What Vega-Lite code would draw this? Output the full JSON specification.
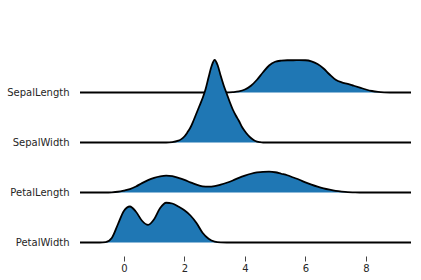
{
  "$schema": "https://vega.github.io/schema/vega-lite/v6.json",
  "width": 331,
  "height": 250,
  "autosize": "none",
  "padding": {"left": 80, "top": 0, "right": 10, "bottom": 30},
  "config": {"view": {"stroke": null}, "font": "DejaVu Sans"},
  "datasets": {
    "kde": [
      {"variable": "SepalLength", "x": -1.45, "density": 0},
      {"variable": "SepalLength", "x": 3.4, "density": 0},
      {"variable": "SepalLength", "x": 3.6, "density": 0.005},
      {"variable": "SepalLength", "x": 3.8, "density": 0.015},
      {"variable": "SepalLength", "x": 4.0, "density": 0.04},
      {"variable": "SepalLength", "x": 4.2, "density": 0.09},
      {"variable": "SepalLength", "x": 4.4, "density": 0.17},
      {"variable": "SepalLength", "x": 4.6, "density": 0.27},
      {"variable": "SepalLength", "x": 4.8, "density": 0.36},
      {"variable": "SepalLength", "x": 5.0, "density": 0.41},
      {"variable": "SepalLength", "x": 5.2, "density": 0.425},
      {"variable": "SepalLength", "x": 5.4, "density": 0.43},
      {"variable": "SepalLength", "x": 5.6, "density": 0.43},
      {"variable": "SepalLength", "x": 5.8, "density": 0.432},
      {"variable": "SepalLength", "x": 6.0, "density": 0.43},
      {"variable": "SepalLength", "x": 6.2, "density": 0.415},
      {"variable": "SepalLength", "x": 6.4, "density": 0.38},
      {"variable": "SepalLength", "x": 6.6, "density": 0.32},
      {"variable": "SepalLength", "x": 6.8, "density": 0.24},
      {"variable": "SepalLength", "x": 7.0, "density": 0.17},
      {"variable": "SepalLength", "x": 7.2, "density": 0.135},
      {"variable": "SepalLength", "x": 7.4, "density": 0.115},
      {"variable": "SepalLength", "x": 7.6, "density": 0.09},
      {"variable": "SepalLength", "x": 7.8, "density": 0.065},
      {"variable": "SepalLength", "x": 8.0, "density": 0.04},
      {"variable": "SepalLength", "x": 8.2, "density": 0.02},
      {"variable": "SepalLength", "x": 8.4, "density": 0.008},
      {"variable": "SepalLength", "x": 8.6, "density": 0.002},
      {"variable": "SepalLength", "x": 8.8, "density": 0},
      {"variable": "SepalLength", "x": 9.49, "density": 0},

      {"variable": "SepalWidth", "x": -1.45, "density": 0},
      {"variable": "SepalWidth", "x": 1.4, "density": 0},
      {"variable": "SepalWidth", "x": 1.6, "density": 0.005},
      {"variable": "SepalWidth", "x": 1.8, "density": 0.025},
      {"variable": "SepalWidth", "x": 1.9, "density": 0.045},
      {"variable": "SepalWidth", "x": 2.0, "density": 0.08},
      {"variable": "SepalWidth", "x": 2.1, "density": 0.135},
      {"variable": "SepalWidth", "x": 2.2, "density": 0.2},
      {"variable": "SepalWidth", "x": 2.3, "density": 0.29},
      {"variable": "SepalWidth", "x": 2.4, "density": 0.39},
      {"variable": "SepalWidth", "x": 2.5, "density": 0.49},
      {"variable": "SepalWidth", "x": 2.6, "density": 0.59},
      {"variable": "SepalWidth", "x": 2.7, "density": 0.71},
      {"variable": "SepalWidth", "x": 2.8, "density": 0.87},
      {"variable": "SepalWidth", "x": 2.9, "density": 1.02},
      {"variable": "SepalWidth", "x": 3.0, "density": 1.1},
      {"variable": "SepalWidth", "x": 3.1, "density": 1.03},
      {"variable": "SepalWidth", "x": 3.2, "density": 0.89},
      {"variable": "SepalWidth", "x": 3.3, "density": 0.76},
      {"variable": "SepalWidth", "x": 3.4, "density": 0.65},
      {"variable": "SepalWidth", "x": 3.5, "density": 0.54},
      {"variable": "SepalWidth", "x": 3.6, "density": 0.44},
      {"variable": "SepalWidth", "x": 3.7, "density": 0.36},
      {"variable": "SepalWidth", "x": 3.8, "density": 0.29},
      {"variable": "SepalWidth", "x": 3.9, "density": 0.21},
      {"variable": "SepalWidth", "x": 4.0, "density": 0.15},
      {"variable": "SepalWidth", "x": 4.1, "density": 0.1},
      {"variable": "SepalWidth", "x": 4.2, "density": 0.06},
      {"variable": "SepalWidth", "x": 4.3, "density": 0.03},
      {"variable": "SepalWidth", "x": 4.4, "density": 0.012},
      {"variable": "SepalWidth", "x": 4.5, "density": 0.004},
      {"variable": "SepalWidth", "x": 4.6, "density": 0},
      {"variable": "SepalWidth", "x": 9.49, "density": 0},

      {"variable": "PetalLength", "x": -1.45, "density": 0},
      {"variable": "PetalLength", "x": -0.6, "density": 0},
      {"variable": "PetalLength", "x": -0.4, "density": 0.003},
      {"variable": "PetalLength", "x": -0.2, "density": 0.01},
      {"variable": "PetalLength", "x": 0.0, "density": 0.025},
      {"variable": "PetalLength", "x": 0.2, "density": 0.045},
      {"variable": "PetalLength", "x": 0.4, "density": 0.08},
      {"variable": "PetalLength", "x": 0.6, "density": 0.125},
      {"variable": "PetalLength", "x": 0.8, "density": 0.165},
      {"variable": "PetalLength", "x": 1.0, "density": 0.195},
      {"variable": "PetalLength", "x": 1.2, "density": 0.215},
      {"variable": "PetalLength", "x": 1.4, "density": 0.224},
      {"variable": "PetalLength", "x": 1.6, "density": 0.218},
      {"variable": "PetalLength", "x": 1.8, "density": 0.195},
      {"variable": "PetalLength", "x": 2.0, "density": 0.168},
      {"variable": "PetalLength", "x": 2.2, "density": 0.135},
      {"variable": "PetalLength", "x": 2.4, "density": 0.105},
      {"variable": "PetalLength", "x": 2.6, "density": 0.083},
      {"variable": "PetalLength", "x": 2.8, "density": 0.077},
      {"variable": "PetalLength", "x": 3.0, "density": 0.085},
      {"variable": "PetalLength", "x": 3.2, "density": 0.105},
      {"variable": "PetalLength", "x": 3.4, "density": 0.13},
      {"variable": "PetalLength", "x": 3.6, "density": 0.16},
      {"variable": "PetalLength", "x": 3.8, "density": 0.195},
      {"variable": "PetalLength", "x": 4.0, "density": 0.225},
      {"variable": "PetalLength", "x": 4.2, "density": 0.25},
      {"variable": "PetalLength", "x": 4.4, "density": 0.268},
      {"variable": "PetalLength", "x": 4.6, "density": 0.276},
      {"variable": "PetalLength", "x": 4.8, "density": 0.277},
      {"variable": "PetalLength", "x": 5.0, "density": 0.27},
      {"variable": "PetalLength", "x": 5.2, "density": 0.25},
      {"variable": "PetalLength", "x": 5.4, "density": 0.23},
      {"variable": "PetalLength", "x": 5.6, "density": 0.2},
      {"variable": "PetalLength", "x": 5.8, "density": 0.17},
      {"variable": "PetalLength", "x": 6.0, "density": 0.135},
      {"variable": "PetalLength", "x": 6.2, "density": 0.105},
      {"variable": "PetalLength", "x": 6.4, "density": 0.078},
      {"variable": "PetalLength", "x": 6.6, "density": 0.055},
      {"variable": "PetalLength", "x": 6.8, "density": 0.037},
      {"variable": "PetalLength", "x": 7.0, "density": 0.022},
      {"variable": "PetalLength", "x": 7.2, "density": 0.012},
      {"variable": "PetalLength", "x": 7.4, "density": 0.005},
      {"variable": "PetalLength", "x": 7.6, "density": 0.002},
      {"variable": "PetalLength", "x": 7.8, "density": 0},
      {"variable": "PetalLength", "x": 9.49, "density": 0},

      {"variable": "PetalWidth", "x": -1.45, "density": 0},
      {"variable": "PetalWidth", "x": -0.8, "density": 0},
      {"variable": "PetalWidth", "x": -0.6, "density": 0.005},
      {"variable": "PetalWidth", "x": -0.4, "density": 0.06},
      {"variable": "PetalWidth", "x": -0.2, "density": 0.24},
      {"variable": "PetalWidth", "x": 0.0, "density": 0.42},
      {"variable": "PetalWidth", "x": 0.2, "density": 0.48},
      {"variable": "PetalWidth", "x": 0.4, "density": 0.41},
      {"variable": "PetalWidth", "x": 0.6, "density": 0.29},
      {"variable": "PetalWidth", "x": 0.8, "density": 0.235},
      {"variable": "PetalWidth", "x": 1.0, "density": 0.31},
      {"variable": "PetalWidth", "x": 1.2, "density": 0.46},
      {"variable": "PetalWidth", "x": 1.4, "density": 0.53},
      {"variable": "PetalWidth", "x": 1.6, "density": 0.52},
      {"variable": "PetalWidth", "x": 1.8, "density": 0.48},
      {"variable": "PetalWidth", "x": 2.0, "density": 0.43},
      {"variable": "PetalWidth", "x": 2.2, "density": 0.36},
      {"variable": "PetalWidth", "x": 2.4, "density": 0.26},
      {"variable": "PetalWidth", "x": 2.6, "density": 0.13},
      {"variable": "PetalWidth", "x": 2.8, "density": 0.05},
      {"variable": "PetalWidth", "x": 3.0, "density": 0.012},
      {"variable": "PetalWidth", "x": 3.2, "density": 0.002},
      {"variable": "PetalWidth", "x": 3.4, "density": 0},
      {"variable": "PetalWidth", "x": 9.49, "density": 0}
    ]
  },
  "data": {"name": "kde"},
  "encoding": {
    "x": {
      "field": "x",
      "type": "quantitative",
      "scale": {"domain": [-1.45, 9.49], "nice": false, "zero": false},
      "axis": {
        "values": [0, 2, 4, 6, 8],
        "domain": false,
        "grid": false,
        "title": null,
        "offset": 6,
        "tickSize": 5,
        "tickColor": "#444444",
        "labelFontSize": 10,
        "labelColor": "#262626",
        "labelPadding": 2
      }
    },
    "y2": {"datum": 0}
  },
  "layer": [
    {
      "transform": [{"filter": "datum.variable === 'SepalLength'"}],
      "mark": {"type": "area", "color": "#1f77b4", "interpolate": "monotone", "opacity": 1, "line": {"color": "black", "strokeWidth": 1.8}},
      "encoding": {
        "y": {"field": "density", "type": "quantitative",
          "scale": {"domain": [-2.1, 1.2333], "nice": false, "zero": false},
          "axis": {"values": [0], "labelExpr": "'SepalLength'", "orient": "left", "domain": false, "ticks": false, "tickSize": 0, "grid": false, "title": null, "labelPadding": 11, "labelFontSize": 10, "labelColor": "#262626"}}
      }
    },
    {
      "transform": [{"filter": "datum.variable === 'SepalWidth'"}],
      "mark": {"type": "area", "color": "#1f77b4", "interpolate": "monotone", "opacity": 1, "line": {"color": "black", "strokeWidth": 1.8}},
      "encoding": {
        "y": {"field": "density", "type": "quantitative",
          "scale": {"domain": [-1.4333, 1.9], "nice": false, "zero": false},
          "axis": {"values": [0], "labelExpr": "'SepalWidth'", "orient": "left", "domain": false, "ticks": false, "tickSize": 0, "grid": false, "title": null, "labelPadding": 11, "labelFontSize": 10, "labelColor": "#262626"}}
      }
    },
    {
      "transform": [{"filter": "datum.variable === 'PetalLength'"}],
      "mark": {"type": "area", "color": "#1f77b4", "interpolate": "monotone", "opacity": 1, "line": {"color": "black", "strokeWidth": 1.8}},
      "encoding": {
        "y": {"field": "density", "type": "quantitative",
          "scale": {"domain": [-0.7667, 2.5667], "nice": false, "zero": false},
          "axis": {"values": [0], "labelExpr": "'PetalLength'", "orient": "left", "domain": false, "ticks": false, "tickSize": 0, "grid": false, "title": null, "labelPadding": 11, "labelFontSize": 10, "labelColor": "#262626"}}
      }
    },
    {
      "transform": [{"filter": "datum.variable === 'PetalWidth'"}],
      "mark": {"type": "area", "color": "#1f77b4", "interpolate": "monotone", "opacity": 1, "line": {"color": "black", "strokeWidth": 1.8}},
      "encoding": {
        "y": {"field": "density", "type": "quantitative",
          "scale": {"domain": [-0.1, 3.2333], "nice": false, "zero": false},
          "axis": {"values": [0], "labelExpr": "'PetalWidth'", "orient": "left", "domain": false, "ticks": false, "tickSize": 0, "grid": false, "title": null, "labelPadding": 11, "labelFontSize": 10, "labelColor": "#262626"}}
      }
    }
  ],
  "resolve": {"scale": {"y": "independent"}, "axis": {"y": "independent"}}
}
